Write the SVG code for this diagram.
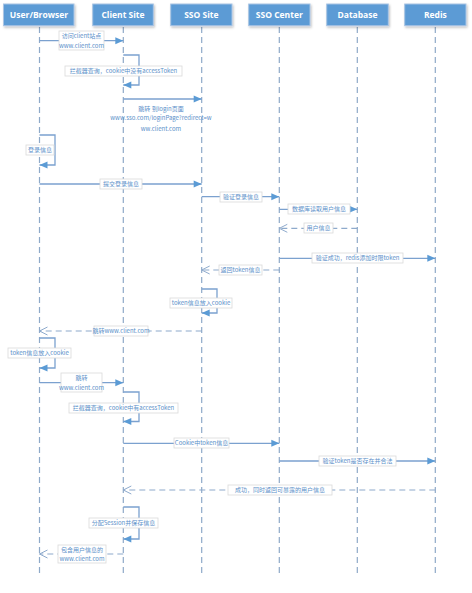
<svg xmlns="http://www.w3.org/2000/svg" width="472" height="593" viewBox="0 0 472 593">
<defs>
<marker id="fa" markerUnits="userSpaceOnUse" markerWidth="10" markerHeight="10" viewBox="0 0 10 10" refX="9" refY="5" orient="auto">
<path d="M1,1.5 L9,5 L1,8.5 Z" fill="#5b9bd5"/>
</marker>
<marker id="oa" markerUnits="userSpaceOnUse" markerWidth="10" markerHeight="10" viewBox="0 0 10 10" refX="9" refY="5" orient="auto">
<path d="M1,1 L9,5 L1,9" fill="none" stroke="#8eaacc" stroke-width="1"/>
</marker>
<filter id="sh" x="-10%" y="-20%" width="130%" height="160%">
<feDropShadow dx="1" dy="1.5" stdDeviation="1" flood-color="#000" flood-opacity="0.25"/>
</filter>
</defs>
<style>
.hd{fill:#5b9bd5;stroke:#a9c4e4;stroke-width:1;filter:url(#sh)}
.ht{font-family:"Open Sans","Noto Sans",sans-serif;font-weight:bold;font-size:8.5px;fill:#fff;text-anchor:middle}
.ll{stroke:#8ea9c8;stroke-width:1.2;stroke-dasharray:6,4;fill:none}
.m{stroke:#7ba1cf;stroke-width:1.3;fill:none;marker-end:url(#fa)}
.r{stroke:#8eaacc;stroke-width:1.2;stroke-dasharray:6,4;fill:none;marker-end:url(#oa)}
.lb{fill:#fff;stroke:#d9d9d9;stroke-width:0.8}
.lt{font-family:"Noto Sans CJK SC","Noto Sans",sans-serif;font-size:6px;fill:#5b8fc9;text-anchor:middle}
</style>
<rect width="472" height="593" fill="#fff"/>
<g id="lifelines">
<line class="ll" x1="39.5" y1="27" x2="39.5" y2="576"/>
<line class="ll" x1="123.3" y1="27" x2="123.3" y2="576"/>
<line class="ll" x1="201.7" y1="27" x2="201.7" y2="576"/>
<line class="ll" x1="279.3" y1="27" x2="279.3" y2="576"/>
<line class="ll" x1="357.3" y1="27" x2="357.3" y2="576"/>
<line class="ll" x1="435.3" y1="27" x2="435.3" y2="576"/>
</g>
<g id="user"><rect class="hd" x="3.5" y="4" width="70.5" height="21.7"/><text class="ht" x="39" y="18">User/Browser</text></g>
<g id="client"><rect class="hd" x="92.7" y="4" width="60.6" height="21.7"/><text class="ht" x="123" y="18">Client Site</text></g>
<g id="ssosite"><rect class="hd" x="170.7" y="4" width="61.3" height="21.7"/><text class="ht" x="201.3" y="18">SSO Site</text></g>
<g id="ssocenter"><rect class="hd" x="248.7" y="4" width="61.3" height="21.7"/><text class="ht" x="279.3" y="18">SSO Center</text></g>
<g id="database"><rect class="hd" x="326.7" y="4" width="61.6" height="21.7"/><text class="ht" x="357.5" y="18">Database</text></g>
<g id="redis"><rect class="hd" x="404.7" y="4" width="61.3" height="21.7"/><text class="ht" x="435.3" y="18">Redis</text></g>
<g id="connectors">
<line class="m" x1="39.5" y1="40.7" x2="123.3" y2="40.7"/>
<polyline class="m" points="123.3,55 139,55 139,85 123.3,85"/>
<line class="m" x1="123.3" y1="99" x2="201.7" y2="99"/>
<polyline class="m" points="39.5,135 55,135 55,165 39.5,165"/>
<line class="m" x1="39.5" y1="184" x2="201.7" y2="184"/>
<line class="m" x1="201.7" y1="196.7" x2="279.3" y2="196.7"/>
<line class="m" x1="279.3" y1="209.3" x2="357.3" y2="209.3"/>
<line class="r" x1="357.3" y1="228.3" x2="279.3" y2="228.3"/>
<line class="m" x1="279.3" y1="258.3" x2="435.3" y2="258.3"/>
<line class="r" x1="279.3" y1="270" x2="201.7" y2="270"/>
<polyline class="m" points="201.7,289 217,289 217,313 201.7,313"/>
<line class="r" x1="201.7" y1="331" x2="39.5" y2="331"/>
<polyline class="m" points="39.5,338 55,338 55,368 39.5,368"/>
<line class="m" x1="39.5" y1="382.7" x2="123.3" y2="382.7"/>
<polyline class="m" points="123.3,392 139,392 139,421.5 123.3,421.5"/>
<line class="m" x1="123.3" y1="443.3" x2="279.3" y2="443.3"/>
<line class="m" x1="279.3" y1="461" x2="435.3" y2="461"/>
<line class="r" x1="435.3" y1="490" x2="123.3" y2="490"/>
<polyline class="m" points="123.3,507 139,507 139,539 123.3,539"/>
<line class="r" x1="123.3" y1="554" x2="39.5" y2="554"/>
</g>
<g id="labels">
<rect class="lb" x="59" y="31" width="45" height="19"/><text class="lt" x="81.5" y="37.5">访问client站点</text><text class="lt" x="81.5" y="47.5">www.client.com</text>
<rect class="lb" x="65" y="66" width="117" height="10"/><text class="lt" x="123.5" y="73.2">拦截器查询，cookie中没有accessToken</text>
<text class="lt" x="161" y="110.5">跳转 到login页面</text><text class="lt" x="161" y="120">www.sso.com/loginPage?redirect=w</text><text class="lt" x="161" y="130.5">ww.client.com</text>
<rect class="lb" x="26" y="145" width="28" height="10"/><text class="lt" x="40" y="152.2">登录信息</text>
<rect class="lb" x="100" y="179" width="42" height="10"/><text class="lt" x="121" y="186.2">提交登录信息</text>
<rect class="lb" x="220" y="192" width="42" height="10"/><text class="lt" x="241" y="199.2">验证登录信息</text>
<rect class="lb" x="288" y="204" width="62" height="10"/><text class="lt" x="319" y="211.2">数据库读取用户信息</text>
<rect class="lb" x="304" y="223" width="29" height="10"/><text class="lt" x="318.5" y="230.2">用户信息</text>
<rect class="lb" x="312" y="253" width="91" height="10"/><text class="lt" x="357.5" y="260.2">验证成功，redis添加时限token</text>
<rect class="lb" x="219" y="265" width="43" height="10"/><text class="lt" x="240.5" y="272.2">返回token信息</text>
<rect class="lb" x="170" y="298" width="62" height="10"/><text class="lt" x="201" y="305.2">token信息放入cookie</text>
<rect class="lb" x="94" y="326" width="54" height="10"/><text class="lt" x="121" y="333.2">跳转www.client.com</text>
<rect class="lb" x="8" y="348" width="63" height="10"/><text class="lt" x="39.5" y="355.2">token信息放入cookie</text>
<rect class="lb" x="61" y="373" width="41" height="19"/><text class="lt" x="81.5" y="380">跳转</text><text class="lt" x="81.5" y="390">www.client.com</text>
<rect class="lb" x="69" y="403" width="109" height="10"/><text class="lt" x="123.5" y="410.2">拦截器查询，cookie中有accessToken</text>
<rect class="lb" x="174" y="438" width="55" height="10"/><text class="lt" x="201.5" y="445.2">Cookie中token信息</text>
<rect class="lb" x="319" y="456" width="77" height="10"/><text class="lt" x="357.5" y="463.2">验证token是否存在并合法</text>
<rect class="lb" x="228" y="485" width="104" height="10"/><text class="lt" x="280" y="492.2">成功，同时返回可暴露的用户信息</text>
<rect class="lb" x="89" y="518" width="69" height="10"/><text class="lt" x="123.5" y="525.2">分配Session并保存信息</text>
<rect class="lb" x="58" y="545" width="48" height="18"/><text class="lt" x="82" y="551.5">包含用户信息的</text><text class="lt" x="82" y="561">www.client.com</text>
</g>
</svg>
